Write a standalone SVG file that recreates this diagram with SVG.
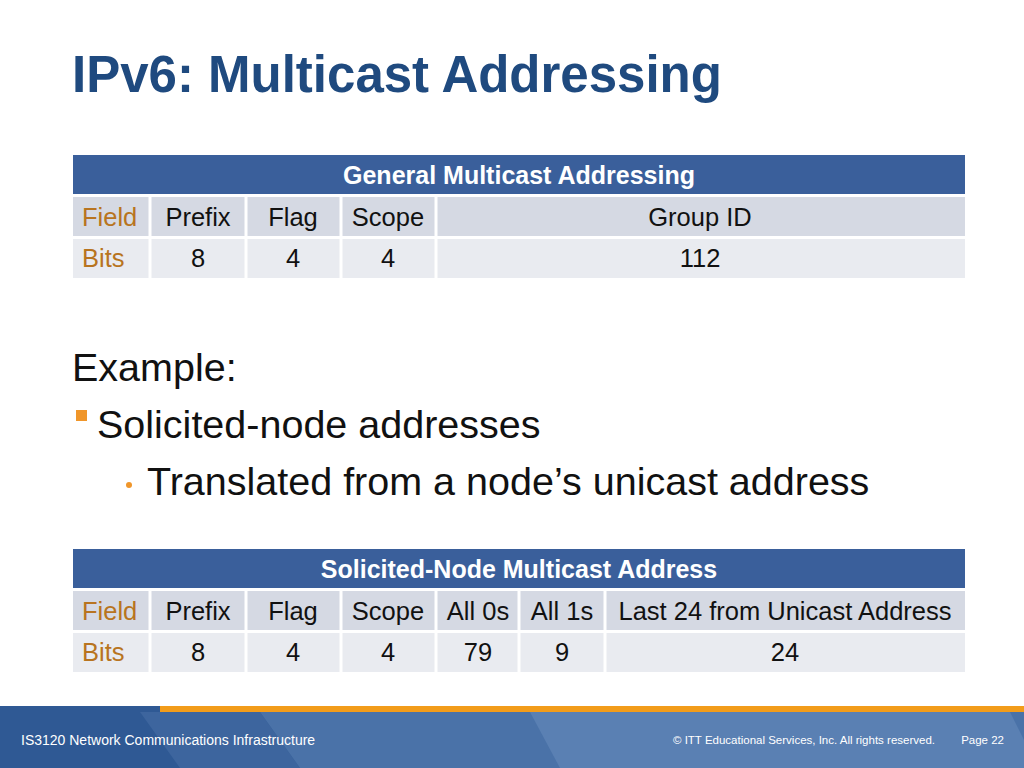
<svg xmlns="http://www.w3.org/2000/svg" width="1024" height="768" viewBox="0 0 1024 768">
<style>
text{font-family:"Liberation Sans",Arial,sans-serif}
.h{fill:#fff;font-size:25px;font-weight:bold;text-anchor:middle}
.c{fill:#111;font-size:25.5px;text-anchor:middle}
.f{fill:#b87420;font-size:25.5px}
.r1{fill:#d5d9e3}
.r2{fill:#e9ebf0}
.hd{fill:#3a5f9b}
.ln{stroke:#fff;stroke-width:3}
.b{fill:#111;font-size:39.5px}
</style>
<rect width="1024" height="768" fill="#fff"/>
<text x="72" y="92" font-size="51" font-weight="bold" fill="#1f4a7f">IPv6: Multicast Addressing</text>
<g id="table1">
<rect class="hd" x="73" y="155" width="892" height="39"/>
<text class="h" x="519" y="184">General Multicast Addressing</text>
<rect class="r1" x="73" y="197" width="892" height="40"/>
<rect class="r2" x="73" y="238" width="892" height="40"/>
<g class="ln"><line x1="150" y1="196" x2="150" y2="278"/><line x1="246" y1="196" x2="246" y2="278"/><line x1="341" y1="196" x2="341" y2="278"/><line x1="436" y1="196" x2="436" y2="278"/><line x1="73" y1="237.5" x2="965" y2="237.5"/></g>
<text class="f" x="82" y="226">Field</text><text class="c" x="198" y="226">Prefix</text><text class="c" x="293" y="226">Flag</text><text class="c" x="388" y="226">Scope</text><text class="c" x="700" y="226">Group ID</text>
<text class="f" x="82" y="267">Bits</text><text class="c" x="198" y="267">8</text><text class="c" x="293" y="267">4</text><text class="c" x="388" y="267">4</text><text class="c" x="700" y="267">112</text>
</g>
<g id="body">
<text class="b" x="72" y="381">Example:</text>
<rect x="76" y="410" width="11" height="11" fill="#f0962a"/>
<text class="b" x="97" y="438">Solicited-node addresses</text>
<circle cx="129" cy="485" r="3" fill="#f0962a"/>
<text class="b" x="147" y="495">Translated from a node’s unicast address</text>
</g>
<g id="table2">
<rect class="hd" x="73" y="549" width="892" height="39"/>
<text class="h" x="519" y="578">Solicited-Node Multicast Address</text>
<rect class="r1" x="73" y="591" width="892" height="40"/>
<rect class="r2" x="73" y="632" width="892" height="40"/>
<g class="ln"><line x1="150" y1="590" x2="150" y2="672"/><line x1="246" y1="590" x2="246" y2="672"/><line x1="341" y1="590" x2="341" y2="672"/><line x1="436" y1="590" x2="436" y2="672"/><line x1="519" y1="590" x2="519" y2="672"/><line x1="605" y1="590" x2="605" y2="672"/><line x1="73" y1="631.5" x2="965" y2="631.5"/></g>
<text class="f" x="82" y="620">Field</text><text class="c" x="198" y="620">Prefix</text><text class="c" x="293" y="620">Flag</text><text class="c" x="388" y="620">Scope</text><text class="c" x="478" y="620">All 0s</text><text class="c" x="562" y="620">All 1s</text><text class="c" x="785" y="620">Last 24 from Unicast Address</text>
<text class="f" x="82" y="661">Bits</text><text class="c" x="198" y="661">8</text><text class="c" x="293" y="661">4</text><text class="c" x="388" y="661">4</text><text class="c" x="478" y="661">79</text><text class="c" x="562" y="661">9</text><text class="c" x="785" y="661">24</text>
</g>
<g id="footer">
<rect x="0" y="706" width="1024" height="62" fill="#2f5994"/>
<polygon points="140,712 260,712 300,768 180,768" fill="#3d659e"/>
<polygon points="260,712 1024,712 1024,768 300,768" fill="#4a72a8"/>
<polygon points="530,712 1010,712 1024,740 1024,768 560,768" fill="#5a80b3"/>
<rect x="160" y="706" width="864" height="6" fill="#f29c1a"/>
<text x="21" y="745" font-size="14" fill="#fff">IS3120 Network Communications Infrastructure</text>
<text x="935" y="744" font-size="11.5" fill="#fff" text-anchor="end">© ITT Educational Services, Inc. All rights reserved.</text>
<text x="1004" y="744" font-size="11.5" fill="#fff" text-anchor="end">Page 22</text>
</g>
</svg>
